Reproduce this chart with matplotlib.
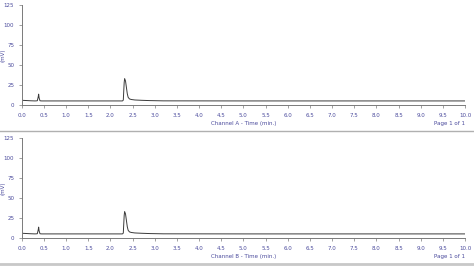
import numpy as np
import matplotlib
matplotlib.use("Agg")
import matplotlib.pyplot as plt
from matplotlib.lines import Line2D

# chromatogram trace (same for both channels)
time_a = [0.0, 0.10, 0.20, 0.30, 0.35, 0.37, 0.38, 0.39, 0.41, 0.45, 1.0, 2.0, 2.27, 2.29,
          2.31, 2.32, 2.34, 2.36, 2.38, 2.40, 2.43, 2.47, 2.55, 2.70, 2.90, 3.2, 5.0, 10.0]
signal_a = [5.8, 5.5, 5.2, 5.0, 5.2, 10.0, 13.5, 9.0, 5.2, 5.0, 5.0, 5.0, 5.0, 6.0,
            28.0, 33.0, 30.0, 22.0, 14.0, 9.5, 7.5, 6.8, 6.2, 5.8, 5.4, 5.1, 5.0, 5.0]
time_b = time_a
signal_b = signal_a

x_ticks = np.arange(0, 10.01, 0.5)
y_ticks = [0, 25, 50, 75, 100, 125]
channels = ["Channel A - Time (min.)", "Channel B - Time (min.)"]

tick_col = "#4a4a9c"
spine_col = "#7a7a7a"

fig = plt.figure(figsize=(4.74, 2.67), dpi=100)
fig.patch.set_facecolor("white")

boxes = [[0.046, 0.607, 0.935, 0.374], [0.046, 0.109, 0.935, 0.374]]
series = [(time_a, signal_a), (time_b, signal_b)]

for box, (t, s), label in zip(boxes, series, channels):
    ax = fig.add_axes(box)
    ax.plot(t, s, color="#3a3a3a", lw=0.7)
    ax.set_xlim(0, 10)
    ax.set_ylim(0, 125)
    ax.set_xticks(x_ticks)
    ax.set_xticklabels([f"{v:.1f}" for v in x_ticks])
    ax.set_yticks(y_ticks)
    for sp in ["top", "right"]:
        ax.spines[sp].set_visible(False)
    for sp in ["left", "bottom"]:
        ax.spines[sp].set_color(spine_col)
        ax.spines[sp].set_linewidth(0.7)
    ax.tick_params(labelsize=4, colors=tick_col, length=2.5, width=0.5, pad=3)
    ax.tick_params(color=spine_col)
    ax.set_ylabel("(mV)", fontsize=4, color=tick_col)
    ax.yaxis.set_label_coords(-0.036, 0.5)
    ax.text(0.5, -0.19, label, transform=ax.transAxes, fontsize=4, color=tick_col,
            ha="center", va="center")
    ax.text(1.0, -0.19, "Page 1 of 1", transform=ax.transAxes, fontsize=4, color=tick_col,
            ha="right", va="center")

# gray separators between pages
fig.add_artist(Line2D([0, 1], [1 - 131 / 267] * 2, color="#b0b0b0", lw=1.0))
fig.add_artist(Line2D([0, 1], [1 - 264 / 267] * 2, color="#c8c8c8", lw=2.0))

fig.savefig("out.png", dpi=100)
